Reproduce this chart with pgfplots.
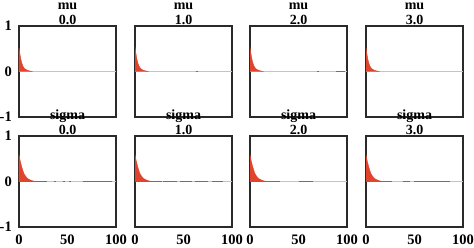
\documentclass[border=0pt]{standalone}
\usepackage{pgfplots}
\pgfplotsset{compat=1.18}
\usepackage{fontspec}
\setmainfont{Liberation Serif}
\definecolor{acfred}{HTML}{E0442C}
\definecolor{zerogrey}{HTML}{C4C4C4}
\definecolor{frame}{HTML}{2A2A2A}
\newcommand{\tfont}{\bfseries\fontsize{14}{15}\selectfont}
\newcommand{\kfont}{\bfseries\fontsize{14.5}{16}\selectfont}
\pgfplotsset{
  acfax/.style={
    scale only axis, width=97pt, height=91pt,
    xmin=0, xmax=100, ymin=-1, ymax=1,
    anchor=south west,
    axis line style={draw=frame, line width=1.1pt},
    major tick length=0pt,
    xtick={0,50,100}, ytick={-1,0,1},
    xticklabels={}, yticklabels={},
    tick label style={font=\kfont},
    yticklabel style={inner sep=0pt, xshift=-7pt},
    xticklabel style={inner sep=0pt, yshift=-8pt},
    every axis title/.style={align=center, font=\tfont, at={(0.5,1)}, anchor=south, inner sep=0pt, yshift=1.5pt},
    clip=true,
  },
  leftcol/.style={yticklabels={-1,0,1}},
  bottomrow/.style={xticklabels={0,50,100}},
  zero/.style={zerogrey, line width=1.4pt},
  fillacf/.style={draw=acfred, fill=acfred, line width=0.4pt},
  seg/.style={acfred, line width=1.3pt},
}
\pgfplotstableread{
lag acf
0 0.52
1 0.38
2 0.26
3 0.18
4 0.12
5 0.085
6 0.06
7 0.045
8 0.035
9 0.025
10 0.018
11 0.012
12 0.008
13 0.004
14 0
}\mutab
\pgfplotstableread{
lag acf
0 0.53
1 0.39
2 0.27
3 0.185
4 0.125
5 0.088
6 0.062
7 0.046
8 0.035
9 0.025
10 0.018
11 0.012
12 0.008
13 0.004
14 0
}\mutabb
\pgfplotstableread{
lag acf
0 0.59
1 0.48
2 0.39
3 0.31
4 0.24
5 0.18
6 0.14
7 0.11
8 0.085
9 0.065
10 0.05
11 0.04
12 0.03
13 0.02
14 0.015
15 0.01
16 0.006
17 0
}\sigtab
\begin{document}
\begin{tikzpicture}
\useasboundingbox (0pt,0pt) rectangle (474pt,248pt);
% ---- row 1: mu ----
\begin{axis}[acfax, leftcol, at={(19pt,131pt)}, title={mu\\0.0}]
\addplot[zero] coordinates {(0,0) (100,0)};
\addplot[fillacf] table[x=lag,y=acf] {\mutab} \closedcycle;
\end{axis}
\begin{axis}[acfax, at={(135pt,131pt)}, title={mu\\1.0}]
\addplot[zero] coordinates {(0,0) (100,0)};
\addplot[fillacf] table[x=lag,y=acf] {\mutabb} \closedcycle;
\addplot[seg] coordinates {(62.5,0) (64.5,0)};
\end{axis}
\begin{axis}[acfax, at={(250pt,131pt)}, title={mu\\2.0}]
\addplot[zero] coordinates {(0,0) (100,0)};
\addplot[fillacf] table[x=lag,y=acf] {\mutabb} \closedcycle;
\addplot[seg] coordinates {(69.5,0) (71.5,0)};
\addplot[seg] coordinates {(89,0) (98,0)};
\end{axis}
\begin{axis}[acfax, at={(366pt,131pt)}, title={mu\\3.0}]
\addplot[zero] coordinates {(0,0) (100,0)};
\addplot[fillacf] table[x=lag,y=acf] {\mutab} \closedcycle;
\end{axis}
% ---- row 2: sigma ----
\begin{axis}[acfax, leftcol, bottomrow, at={(19pt,21pt)}, title={sigma\\0.0}]
\addplot[zero] coordinates {(0,0) (100,0)};
\addplot[fillacf] table[x=lag,y=acf] {\sigtab} \closedcycle;
\addplot[seg] coordinates {(0,0) (29,0)};
\addplot[seg] coordinates {(36,0) (38,0)};
\addplot[seg] coordinates {(45,0) (47,0)};
\addplot[seg] coordinates {(52,0) (54,0)};
\addplot[seg] coordinates {(66,0) (96,0)};
\end{axis}
\begin{axis}[acfax, bottomrow, at={(135pt,21pt)}, title={sigma\\1.0}]
\addplot[zero] coordinates {(0,0) (100,0)};
\addplot[fillacf] table[x=lag,y=acf] {\sigtab} \closedcycle;
\addplot[seg] coordinates {(0,0) (27.5,0)};
\addplot[seg] coordinates {(29,0) (43,0)};
\addplot[seg] coordinates {(46.5,0) (58.5,0)};
\addplot[seg] coordinates {(62,0) (75.5,0)};
\addplot[seg] coordinates {(79,0) (91,0)};
\end{axis}
\begin{axis}[acfax, bottomrow, at={(250pt,21pt)}, title={sigma\\2.0}]
\addplot[zero] coordinates {(0,0) (100,0)};
\addplot[fillacf] table[x=lag,y=acf] {\sigtab} \closedcycle;
\addplot[seg] coordinates {(0,0) (31,0)};
\addplot[seg] coordinates {(50,0) (65,0)};
\end{axis}
\begin{axis}[acfax, bottomrow, at={(366pt,21pt)}, title={sigma\\3.0}]
\addplot[zero] coordinates {(0,0) (100,0)};
\addplot[fillacf] table[x=lag,y=acf] {\sigtab} \closedcycle;
\addplot[seg] coordinates {(0,0) (26.5,0)};
\addplot[seg] coordinates {(38.5,0) (45.5,0)};
\addplot[seg] coordinates {(49,0) (86.5,0)};
\end{axis}
\end{tikzpicture}
\end{document}
